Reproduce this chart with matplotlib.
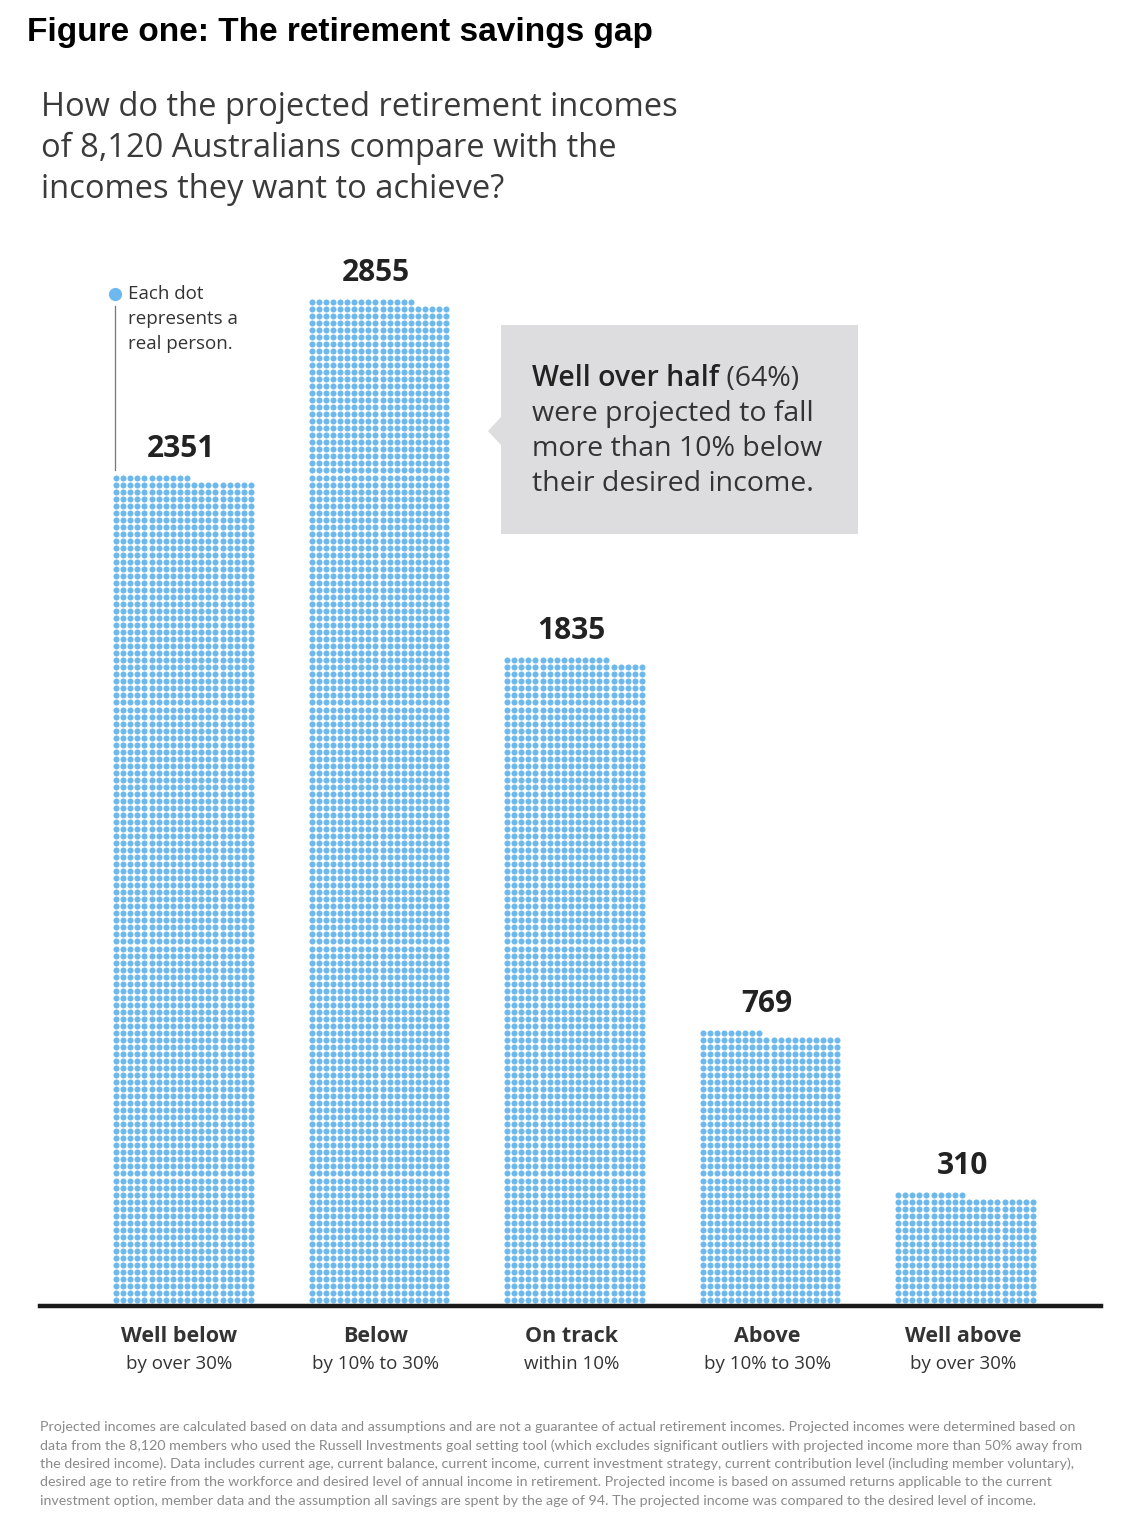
import matplotlib.pyplot as plt
from matplotlib.patches import Polygon

# Data
categories = ['Well below', 'Below', 'On track', 'Above', 'Well above']
subcats = ['by over 30%', 'by 10% to 30%', 'within 10%', 'by 10% to 30%', 'by over 30%']
counts = [2351, 2855, 1835, 769, 310]
per_row = 20

W, H = 1121, 1536
def fx(x):
    return x / W
def fy(y):
    return 1 - y / H

dot_color = '#6DB9EE'
body_font = 'Open Sans'

fig = plt.figure(figsize=(W / 100, H / 100), dpi=100)

# Axes: x in category units, y in dot rows
ax = fig.add_axes([fx(40), fy(1306), fx(1101) - fx(40), fy(230) - fy(1306)])
dx = 7.1 / 195.5
ax.set_xlim((40 - 183.5) / 195.5, (1101 - 183.5) / 195.5)
ax.set_ylim(-0.85, -0.85 + (1306 - 230) / 7.03)

for i, n in enumerate(counts):
    xs = [i + (k % per_row - (per_row - 1) / 2) * dx for k in range(n)]
    ys = [k // per_row for k in range(n)]
    ax.scatter(xs, ys, s=19, color=dot_color, linewidths=0)
    ax.annotate(str(n), xy=(i, max(ys)), xytext=(-2, 10), textcoords='offset points',
                ha='center', va='bottom', fontsize=21.5, fontweight='bold',
                family=body_font, color='#222222')

for s in ['top', 'left', 'right']:
    ax.spines[s].set_visible(False)
ax.spines['bottom'].set_linewidth(3.2)
ax.spines['bottom'].set_color('#1a1a1a')
ax.set_xticks([])
ax.set_yticks([])

# Category labels
for i, (c, sc) in enumerate(zip(categories, subcats)):
    xc = fx(179.5 + i * 196)
    fig.text(xc, fy(1336), c, ha='center', va='center', fontsize=15.5,
             fontweight='bold', family=body_font, color='#333333')
    fig.text(xc, fy(1364), sc, ha='center', va='center', fontsize=13.5,
             family=body_font, color='#333333')

# Titles
fig.text(fx(27), fy(33), 'Figure one: The retirement savings gap', ha='left', va='center',
         fontsize=24, fontweight='bold', family='Liberation Sans', color='black')
sub = ['How do the projected retirement incomes',
       'of 8,120 Australians compare with the',
       'incomes they want to achieve?']
for j, line in enumerate(sub):
    fig.text(fx(41), fy(107 + j * 41), line, ha='left', va='center', fontsize=23.5,
             family=body_font, color='#3a3a3a')

# Legend-style note
fig.add_artist(plt.Line2D([fx(115)], [fy(294)], marker='o', markersize=8.5,
                          color=dot_color, linestyle='none'))
fig.add_artist(plt.Line2D([fx(115), fx(115)], [fy(306), fy(470)], color='#777777', lw=0.9))
for j, line in enumerate(['Each dot', 'represents a', 'real person.']):
    fig.text(fx(128), fy(294 + j * 25), line, ha='left', va='center', fontsize=13.5,
             family=body_font, color='#333333')

# Callout box
box = Polygon([(fx(501), fy(325)), (fx(858), fy(325)), (fx(858), fy(534)), (fx(501), fy(534)),
               (fx(501), fy(445)), (fx(488), fy(431)), (fx(501), fy(417))],
              closed=True, transform=fig.transFigure, facecolor='#DDDDDF', edgecolor='none')
fig.patches.append(box)
t = fig.text(fx(532), fy(379), 'Well over half', ha='left', va='center', fontsize=20.5,
             fontweight='semibold', family=body_font, color='#222222')
fig.add_artist(plt.Annotation(' (64%)', xy=(1, 0.5), xycoords=t, ha='left', va='center',
                              fontsize=20.5, family=body_font, color='#333333'))
for j, line in enumerate(['were projected to fall', 'more than 10% below',
                          'their desired income.']):
    fig.text(fx(532), fy(414 + j * 35), line, ha='left', va='center', fontsize=20.5,
             family=body_font, color='#333333')

# Footnote
notes = ['Projected incomes are calculated based on data and assumptions and are not a guarantee of actual retirement incomes. Projected incomes were determined based on',
         'data from the 8,120 members who used the Russell Investments goal setting tool (which excludes significant outliers with projected income more than 50% away from',
         'the desired income). Data includes current age, current balance, current income, current investment strategy, current contribution level (including member voluntary),',
         'desired age to retire from the workforce and desired level of annual income in retirement. Projected income is based on assumed returns applicable to the current',
         'investment option, member data and the assumption all savings are spent by the age of 94. The projected income was compared to the desired level of income.']
for j, line in enumerate(notes):
    fig.text(fx(40), fy(1427 + j * 18.5), line, ha='left', va='center', fontsize=10.3,
             family='Lato', color='#8a8a8a')

fig.savefig('out.png', dpi=100)
